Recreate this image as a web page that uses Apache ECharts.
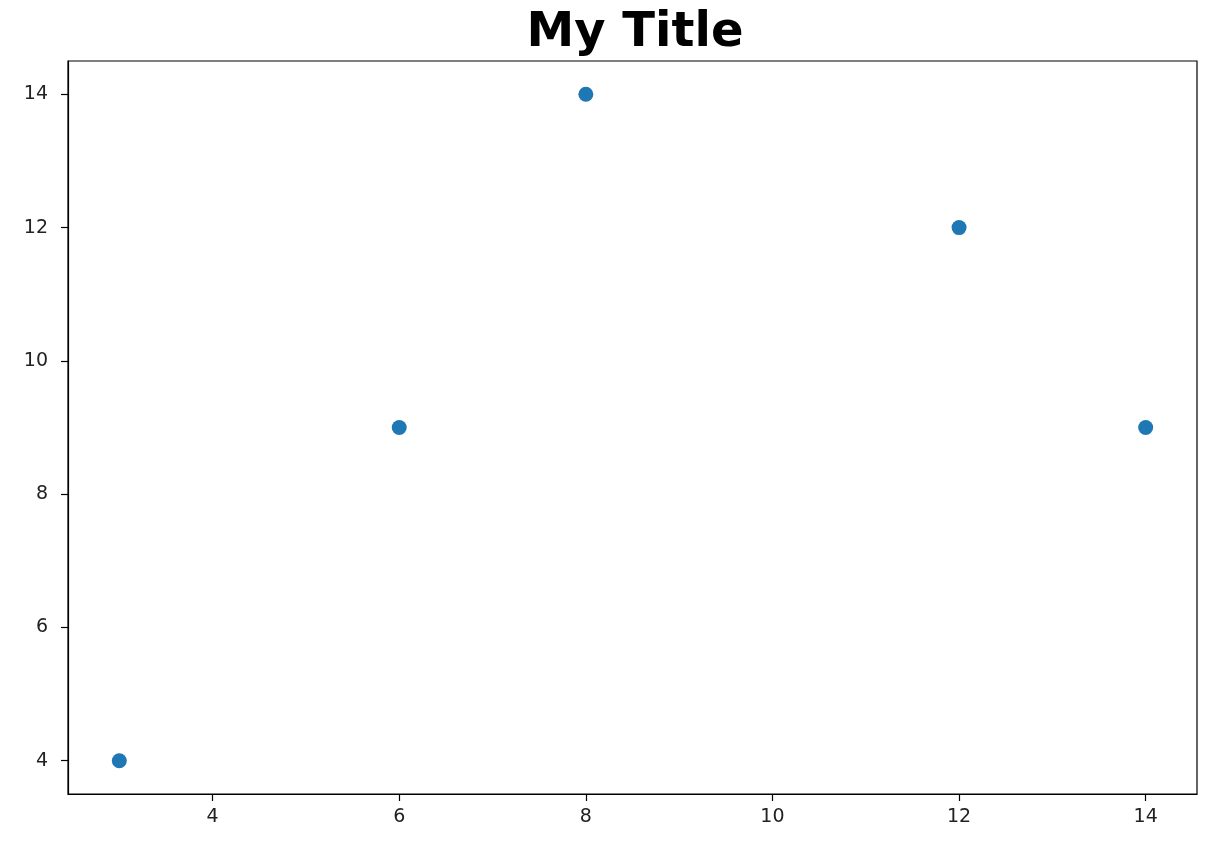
<!DOCTYPE html>
<html>
<head>
<meta charset="utf-8">
<script src="https://cdn.jsdelivr.net/npm/echarts@6/dist/echarts.min.js"></script>
<style>html,body{margin:0;padding:0;background:#fff}#c{width:1217px;height:842px}</style>
</head>
<body>
<div id="c"></div>
<script>
const xValues = [3, 6, 8, 12, 14];
const yValues = [4, 9, 14, 12, 9];
const xTicks = [4, 6, 8, 10, 12, 14];
const yTicks = [4, 6, 8, 10, 12, 14];
const titleText = 'My Title';

const chart = echarts.init(document.getElementById('c'));
const axisCommon = {
  type: 'value',
  splitLine: { show: false },
  axisLine: { show: true, onZero: false, lineStyle: { color: '#000', width: 1.2 } },
  axisTick: { show: true, length: 7, lineStyle: { color: '#000', width: 1.2 } },
  axisLabel: { color: '#222', fontFamily: 'DejaVu Sans', fontSize: 19 }
};
chart.setOption({
  animation: false,
  title: {
    text: titleText,
    left: 630, textAlign: 'center', top: 5,
    textStyle: { fontFamily: 'DejaVu Sans', fontWeight: 'bold', fontSize: 48, color: '#000' }
  },
  grid: { left: 68, right: 20, top: 61, bottom: 48, containLabel: false, show: true, borderColor: '#000', borderWidth: 1.2 },
  xAxis: Object.assign({}, axisCommon, {
    min: 2.45, max: 14.55,
    axisTick: Object.assign({}, axisCommon.axisTick, { customValues: xTicks }),
    axisLabel: Object.assign({}, axisCommon.axisLabel, { customValues: xTicks, margin: 14 })
  }),
  yAxis: Object.assign({}, axisCommon, {
    min: 3.5, max: 14.5,
    axisTick: Object.assign({}, axisCommon.axisTick, { customValues: yTicks }),
    axisLabel: Object.assign({}, axisCommon.axisLabel, { customValues: yTicks, margin: 20 })
  }),
  series: [{
    type: 'scatter',
    data: xValues.map((x, i) => [x, yValues[i]]),
    symbolSize: 15,
    itemStyle: { color: '#1f77b4', opacity: 1 }
  }]
});
</script>
</body>
</html>
